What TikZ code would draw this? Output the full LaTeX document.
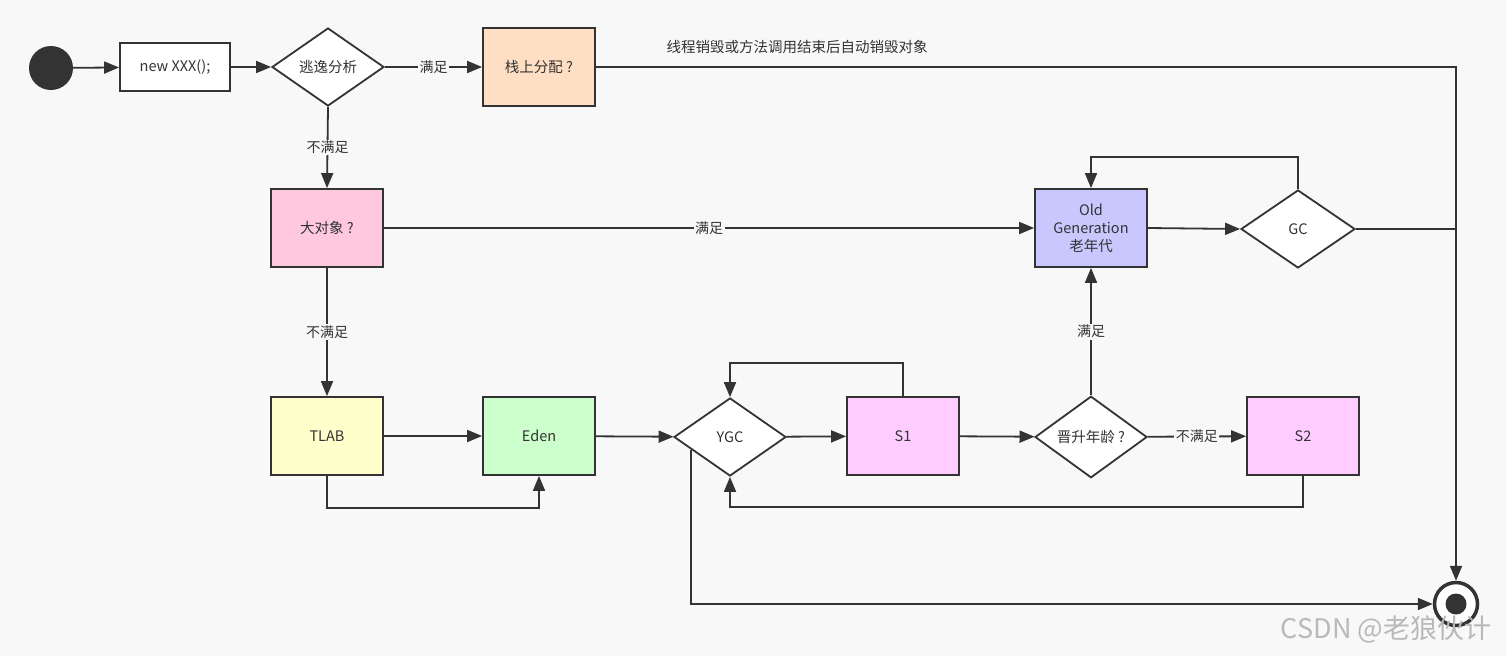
\documentclass[tikz,border=0pt]{standalone}
\usepackage{fontspec}
\setmainfont{Noto Sans CJK SC}
\usetikzlibrary{shapes.geometric,arrows.meta,calc}
\definecolor{bgc}{HTML}{F8F8F9}
\definecolor{linec}{HTML}{333333}
\definecolor{txtc}{HTML}{333333}
\definecolor{peach}{HTML}{FFDFC4}
\definecolor{pinkc}{HTML}{FFC8DE}
\definecolor{lavc}{HTML}{C8C8FF}
\definecolor{yelc}{HTML}{FFFFCC}
\definecolor{grnc}{HTML}{CCFFCC}
\definecolor{magc}{HTML}{FFCCFF}
\tikzset{
  box/.style={draw=linec, line width=1.8pt, minimum width=112pt, minimum height=78pt, inner sep=0pt, align=center, text=txtc, font=\fontsize{14.5}{17}\selectfont},
  dia/.style={diamond, draw=linec, line width=1.8pt, fill=white, minimum width=112pt, minimum height=78pt, inner sep=0pt, text=txtc, font=\fontsize{14.5}{17}\selectfont},
  arr/.style={draw=linec, line width=1.8pt, -{Triangle[length=15pt,width=12pt]}},
  ln/.style={draw=linec, line width=1.8pt},
  lbl/.style={fill=bgc, inner sep=1.5pt, text=txtc, font=\fontsize{14}{16}\selectfont}
}
\begin{document}
\begin{tikzpicture}[x=1pt,y=-1pt]
\fill[bgc] (0,0) rectangle (1506,656);
\useasboundingbox (0,0) rectangle (1506,656);
% nodes
\node[circle, fill=linec, minimum size=44pt, inner sep=0pt] (start) at (51,68) {};
\node[box, fill=white, minimum width=110pt, minimum height=48pt] (new) at (175,67) {new XXX();};
\node[dia] (esc) at (328,67) {逃逸分析};
\node[box, fill=peach] (stack) at (539,67) {栈上分配 ?};
\node[box, fill=pinkc] (big) at (327,228) {大对象 ?};
\node[box, fill=lavc, font=\fontsize{14.5}{18}\selectfont] (old) at (1091,228) {Old\\Generation\\老年代};
\node[dia, minimum width=114pt] (gc) at (1298,229) {GC};
\node[box, fill=yelc] (tlab) at (327,436) {TLAB};
\node[box, fill=grnc] (eden) at (539,436) {Eden};
\node[dia] (ygc) at (730,437) {YGC};
\node[box, fill=magc] (s1) at (903,436) {S1};
\node[dia] (age) at (1091,437) {晋升年龄 ?};
\node[box, fill=magc] (s2) at (1303,436) {S2};
\node[circle, draw=linec, line width=3.5pt, fill=white, minimum size=43pt, inner sep=0pt] (endc) at (1456,604) {};
\fill[linec] (endc.center) circle (10.5);
% coordinates
\coordinate (c1) at (1456,67);
\coordinate (c2) at (1456,229);
\coordinate (ygcout) at ($(ygc.west)!0.32!(ygc.south)$);
% connectors
\draw[arr] (start) -- (new);
\draw[arr] (new) -- (esc);
\draw[arr] (esc) -- node[lbl] {满足} (stack);
\draw[arr] (stack.east) -- (c1) -- (endc.north);
\node[text=txtc, font=\fontsize{14.5}{17}\selectfont] (note) at (797,47) {线程销毁或方法调用结束后自动销毁对象};
\draw[arr] (esc.south) -- node[lbl] {不满足} (big.north);
\draw[arr] (big.east) -- node[lbl] {满足} (old.west);
\draw[arr] (old.east) -- (gc.west);
\draw[arr] (gc.north) -- (1298,157) -| (old.north);
\draw[ln] (gc.east) -- (c2);
\draw[arr] (big.south) -- node[lbl] {不满足} (tlab.north);
\draw[arr] (tlab) -- (eden);
\draw[arr] (tlab.south) -- (327,508) -| (eden.south);
\draw[arr] (eden) -- (ygc);
\draw[arr] (ygc) -- (s1);
\draw[arr] (s1.north) -- (903,363) -| (ygc.north);
\draw[arr] (s1) -- (age);
\draw[arr] (age.north) -- node[lbl] {满足} (old.south);
\draw[arr] (age) -- node[lbl] {不满足} (s2);
\draw[arr] (s2.south) -- (1303,507) -| (ygc.south);
\draw[arr] (ygcout) -- (ygcout |- endc) -- (endc.west);
% watermark
\node[text=gray!55, font=\fontsize{27}{30}\selectfont] (wm) at (1386,629) {CSDN @老狼伙计};
\end{tikzpicture}
\end{document}
